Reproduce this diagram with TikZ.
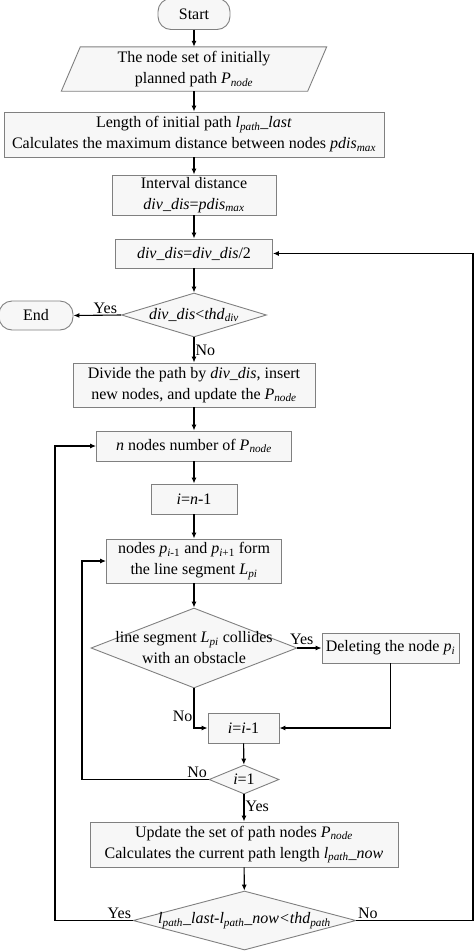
\documentclass[tikz,border=0pt]{standalone}
\usepackage{fontspec}
\setmainfont{Liberation Serif}
\usetikzlibrary{shapes.geometric,arrows.meta,backgrounds}
\definecolor{boxfill}{HTML}{F7F7F7}
\definecolor{boxline}{HTML}{808080}
\newcommand{\isub}[1]{\textsubscript{\itshape #1}}

\begin{document}
\begin{tikzpicture}[x=1pt,y=1pt,yscale=-1,
	every node/.style={font=\fontsize{16}{21}\selectfont},
	box/.style={draw=boxline,fill=boxfill,line width=0.9pt,align=center,inner sep=0pt},
	term/.style={box,rounded corners=13pt},
	decision/.style={draw=boxline,fill=boxfill,line width=0.9pt,diamond,inner sep=0pt},
	flow/.style={line width=1.1pt,-{Latex[length=6pt,width=5pt]}},
	tag/.style={inner sep=1pt}]
	\useasboundingbox (0,0) rectangle (474,951);

	% main column
	\node[term,minimum width=72pt,minimum height=31pt] (start) at (194,14) {Start};
	\node[align=center,minimum width=246pt,minimum height=44pt,inner sep=0pt] (input) at (194,69) {The node set of initially\\planned path \textit{P}\isub{node}};
	\begin{scope}[on background layer]
		\draw[draw=boxline,fill=boxfill,line width=0.9pt] ([xshift=9.5pt]input.north west) -- ([xshift=9.5pt]input.north east) -- ([xshift=-9.5pt]input.south east) -- ([xshift=-9.5pt]input.south west) -- cycle;
	\end{scope}
	\node[box,minimum width=380pt,minimum height=45pt] (length) at (194,134.5) {Length of initial path \textit{l}\isub{path}\textit{\_last}\\Calculates the maximum distance between nodes \textit{pdis}\isub{max}};
	\node[box,minimum width=164pt,minimum height=40pt] (interval) at (194,195) {Interval distance\\\textit{div\_dis}=\textit{pdis}\isub{max}};
	\node[box,minimum width=157pt,minimum height=29pt] (halve) at (194,253.5) {\textit{div\_dis}=\textit{div\_dis}/2};
	\node[decision,minimum width=145pt,minimum height=44pt,label=center:{\textit{div\_dis}<\textit{thd}\isub{div}}] (check) at (194,315) {};
	\node[term,minimum width=74pt,minimum height=29pt] (end) at (36,315.5) {End};
	\node[box,minimum width=242pt,minimum height=44pt] (divide) at (194,385) {Divide the path by \textit{div\_dis}, insert\\new nodes, and update the \textit{P}\isub{node}};
	\node[box,minimum width=195pt,minimum height=30pt] (count) at (194,446) {\textit{n} nodes number of \textit{P}\isub{node}};
	\node[box,minimum width=86pt,minimum height=30pt] (init) at (194,499) {\textit{i}=\textit{n}-1};
	\node[box,minimum width=175pt,minimum height=44pt] (form) at (194,561) {nodes \textit{p}\textsubscript{\textit{i}-1} and \textit{p}\textsubscript{\textit{i}+1} form\\the line segment \textit{L}\isub{pi}};
	\node[decision,minimum width=206pt,minimum height=80pt,label={[align=center]center:{line segment \textit{L}\isub{pi} collides\\with an obstacle}}] (collide) at (194,648) {};
	\node[box,minimum width=137pt,minimum height=30pt] (delete) at (390.5,648) {Deleting the node \textit{p}\isub{i}};
	\node[box,minimum width=71pt,minimum height=30pt] (dec) at (243.5,728) {\textit{i}=\textit{i}-1};
	\node[decision,minimum width=70pt,minimum height=29pt,label=center:{\textit{i}=1}] (last) at (244,779.5) {};
	\node[box,minimum width=308pt,minimum height=45pt] (update) at (244,844.5) {Update the set of path nodes \textit{P}\isub{node}\\Calculates the current path length \textit{l}\isub{path}\textit{\_now}};
	\node[decision,minimum width=223pt,minimum height=59pt,label=center:{\textit{l}\isub{path}\textit{\_last-l}\isub{path}\textit{\_now<thd}\isub{path}}] (conv) at (244.5,920.5) {};

	% loop lines
	\coordinate (outer) at (55,0);
	\coordinate (inner) at (82,0);
	\coordinate (right) at (473,0);

	\draw[flow] (start) -- (input);
	\draw[flow] (input) -- (length);
	\draw[flow] (length) -- (interval);
	\draw[flow] (interval) -- (halve);
	\draw[flow] (halve) -- (check);
	\draw[flow] (check.west) -- (end.east) node[tag,pos=0.33,above]{Yes};
	\draw[flow] (check.south) -- (divide.north) node[tag,pos=0.5,right]{No};
	\draw[flow] (divide) -- (count);
	\draw[flow] (count) -- (init);
	\draw[flow] (init) -- (form);
	\draw[flow] (form) -- (collide);
	\draw[flow] (collide.east) -- (delete.west) node[tag,pos=0.18,above,yshift=2pt]{Yes};
	\draw[flow] (collide.south) |- (dec.west) node[tag,pos=0.35,left]{No};
	\draw[flow] (delete.south) |- (dec.east);
	\draw[flow] (dec) -- (last);
	\draw[flow] (last.west) node[tag,above left]{No} -- (last.west -| inner) |- (form.west);
	\draw[flow] (last.south) -- (update.north) node[tag,pos=0.45,right]{Yes};
	\draw[flow] (update) -- (conv);
	\draw[flow] (conv.west) node[tag,above left]{Yes} -- (conv.west -| outer) |- (count.west);
	\draw[flow] (conv.east) node[tag,above right]{No} -- (conv.east -| right) |- (halve.east);
\end{tikzpicture}
\end{document}
